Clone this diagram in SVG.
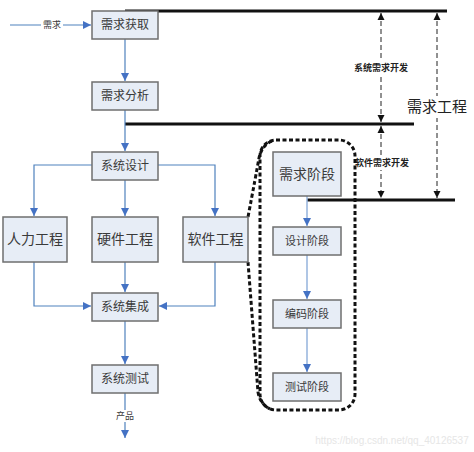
<svg xmlns="http://www.w3.org/2000/svg" width="474" height="452" viewBox="0 0 474 452">
<defs>
<marker id="ab" viewBox="0 0 10 10" refX="10" refY="5" markerWidth="8" markerHeight="8" markerUnits="userSpaceOnUse" orient="auto"><path d="M0,0 L10,5 L0,10 z" fill="#4472c4"/></marker>
<marker id="ak" viewBox="0 0 10 10" refX="10" refY="5" markerWidth="7" markerHeight="8" markerUnits="userSpaceOnUse" orient="auto"><path d="M0,0 L10,5 L0,10 z" fill="#111"/></marker>
<marker id="aks" viewBox="0 0 10 10" refX="10" refY="5" markerWidth="7" markerHeight="8" markerUnits="userSpaceOnUse" orient="auto-start-reverse"><path d="M0,0 L10,5 L0,10 z" fill="#111"/></marker>
</defs>
<style>
.box{fill:#e7edf6;stroke:#6f6f6f;stroke-width:1.5}
.t{font-family:"Liberation Serif","Noto Sans CJK SC",serif;fill:#3a3a3a;text-anchor:middle;dominant-baseline:central}
.c{fill:none;stroke:#4f81bd;stroke-width:1.2}
.cl{fill:none;stroke:#95b3dc;stroke-width:1.5}
.bl{stroke:#111;stroke-width:3}
.dim{stroke:#222;stroke-width:1;stroke-dasharray:5 3;fill:none}
.dash{fill:none;stroke:#111;stroke-width:3;stroke-dasharray:4 2.5}
.lbl{font-family:"Liberation Serif","Noto Sans CJK SC",serif;fill:#222;text-anchor:middle;dominant-baseline:central;font-weight:bold}
</style>
<rect width="474" height="452" fill="#fff"/>
<g id="guides">
<line class="bl" x1="125" y1="11" x2="447" y2="11"/>
<line class="bl" x1="125" y1="124" x2="414" y2="124"/>
<line class="bl" x1="307" y1="200" x2="455" y2="200"/>
<line class="dim" x1="381" y1="13" x2="381" y2="122" marker-start="url(#aks)" marker-end="url(#ak)"/>
<line class="dim" x1="381" y1="126" x2="381" y2="198" marker-start="url(#aks)" marker-end="url(#ak)"/>
<line class="dim" x1="437" y1="13" x2="437" y2="198" marker-start="url(#aks)" marker-end="url(#ak)"/>
<rect x="351" y="61" width="60" height="14" fill="#fff"/>
<text class="lbl" x="381" y="68" font-size="9">系统需求开发</text>
<rect x="358" y="156" width="48" height="14" fill="#fff"/>
<text class="lbl" x="382" y="163" font-size="9">软件需求开发</text>
<rect x="408" y="96" width="58" height="22" fill="#fff"/>
<text class="t" x="437" y="107" font-size="15" style="fill:#222">需求工程</text>
</g>
<g id="connectors">
<line class="c" x1="10" y1="25" x2="91" y2="25" marker-end="url(#ab)"/>
<rect x="41" y="19" width="22" height="12" fill="#fff"/>
<text class="t" x="52" y="25" font-size="9">需求</text>
<line class="c" x1="125" y1="39" x2="125" y2="81" marker-end="url(#ab)"/>
<line class="c" x1="125" y1="110" x2="125" y2="151" marker-end="url(#ab)"/>
<polyline class="c" points="92,165 34,165 34,216" marker-end="url(#ab)"/>
<polyline class="c" points="158,165 215,165 215,216" marker-end="url(#ab)"/>
<line class="c" x1="125" y1="180" x2="125" y2="216" marker-end="url(#ab)"/>
<line class="c" x1="125" y1="262" x2="125" y2="292" marker-end="url(#ab)"/>
<polyline class="c" points="34,262 34,306 91,306" marker-end="url(#ab)"/>
<polyline class="c" points="215,262 215,306 159,306" marker-end="url(#ab)"/>
<line class="c" x1="125" y1="321" x2="125" y2="364" marker-end="url(#ab)"/>
<line class="c" x1="125" y1="393" x2="125" y2="438" marker-end="url(#ab)"/>
<rect x="113" y="410" width="24" height="12" fill="#fff"/>
<text class="t" x="125" y="416" font-size="9">产品</text>
<line class="cl" x1="307" y1="196" x2="307" y2="226" marker-end="url(#ab)"/>
<line class="cl" x1="307" y1="255" x2="307" y2="299" marker-end="url(#ab)"/>
<line class="cl" x1="307" y1="328" x2="307" y2="372" marker-end="url(#ab)"/>
</g>
<g id="callout">
<rect class="dash" x="260" y="140" width="95" height="270" rx="16"/>
<path class="dash" d="M248,217 Q256,175 259,158 Q262,145 272,141"/>
<path class="dash" d="M248,262 L258,392 Q260,404 270,409"/>
</g>
<g id="n1"><rect class="box" x="92" y="11" width="66" height="28"/><text class="t" x="125" y="25" font-size="12">需求获取</text></g>
<g id="n2"><rect class="box" x="92" y="82" width="66" height="28"/><text class="t" x="125" y="96" font-size="12">需求分析</text></g>
<g id="n3"><rect class="box" x="92" y="152" width="66" height="28"/><text class="t" x="125" y="166" font-size="12">系统设计</text></g>
<g id="n4"><rect class="box" x="3" y="217" width="64" height="45"/><text class="t" x="35" y="239.5" font-size="14">人力工程</text></g>
<g id="n5"><rect class="box" x="92" y="217" width="66" height="45"/><text class="t" x="125" y="239.5" font-size="14">硬件工程</text></g>
<g id="n6"><rect class="box" x="183" y="217" width="65" height="45"/><text class="t" x="215.5" y="239.5" font-size="14">软件工程</text></g>
<g id="n7"><rect class="box" x="92" y="293" width="66" height="28"/><text class="t" x="125" y="307" font-size="12">系统集成</text></g>
<g id="n8"><rect class="box" x="92" y="365" width="66" height="28"/><text class="t" x="125" y="379" font-size="12">系统测试</text></g>
<g id="n9"><rect class="box" x="273" y="152" width="68" height="44"/><text class="t" x="307" y="174" font-size="14">需求阶段</text></g>
<g id="n10"><rect class="box" x="273" y="227" width="68" height="28"/><text class="t" x="307" y="241" font-size="11">设计阶段</text></g>
<g id="n11"><rect class="box" x="273" y="300" width="68" height="28"/><text class="t" x="307" y="314" font-size="11">编码阶段</text></g>
<g id="n12"><rect class="box" x="273" y="373" width="68" height="28"/><text class="t" x="307" y="387" font-size="11">测试阶段</text></g>
<text x="392" y="440" font-family="Liberation Sans, sans-serif" font-size="10" fill="#e6e6e6" text-anchor="middle" dominant-baseline="central">https://blog.csdn.net/qq_40126537</text>
</svg>
